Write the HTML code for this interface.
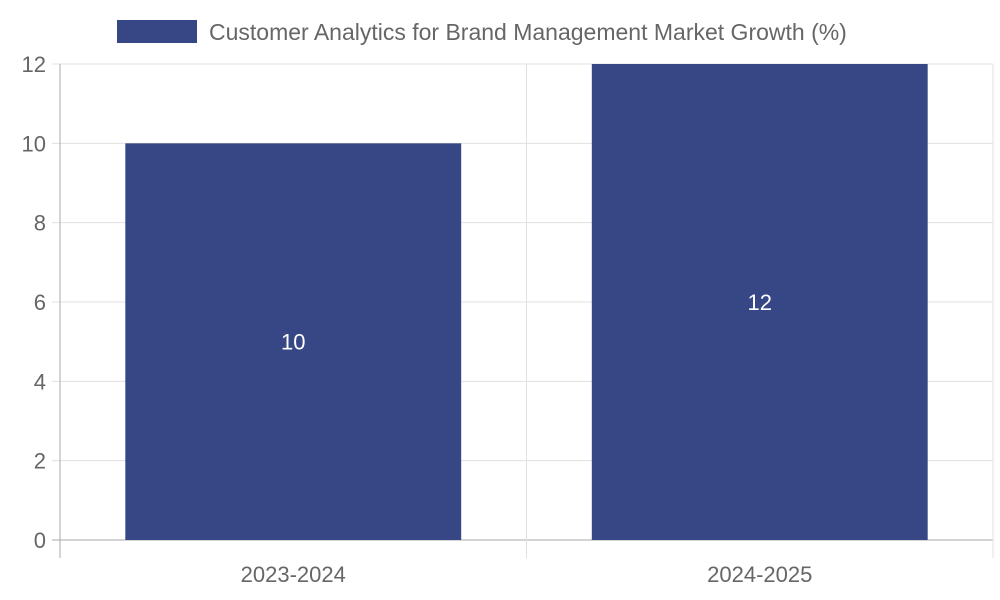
<!DOCTYPE html>
<html><head><meta charset="utf-8"><style>
html,body{margin:0;padding:0;background:#fff;}
svg{display:block;font-family:"Liberation Sans",sans-serif;}
</style></head><body>
<svg id="chart" width="1000" height="600"></svg>
<script>
const categories=["2023-2024","2024-2025"];
const values=[10,12];
const yTicks=[0,2,4,6,8,10,12];
const legendLabel="Customer Analytics for Brand Management Market Growth (%)";
const NS="http://www.w3.org/2000/svg";
const svg=document.getElementById('chart');
const L=60,R=993,T=64,B=540,yMax=12;
const y=v=>B-(v/yMax)*(B-T);
const band=(R-L)/categories.length;
const x=i=>L+band*i;
function mk(t,a,p){const e=document.createElementNS(NS,t);for(const k in a)e.setAttribute(k,a[k]);(p||svg).appendChild(e);return e;}
// grid
yTicks.forEach(v=>{
 const g=mk('line',{x1:L-8,x2:R,y1:y(v),y2:y(v),stroke:v===0?'#aaa':'#e0e0e0','stroke-width':1});
 
 
 const t=mk('text',{x:L-14,y:y(v)+8,'text-anchor':'end','font-size':22,fill:'#666'});
 t.textContent=v;
 
 
});
for(let i=0;i<=categories.length;i++){
 const g=mk('line',{x1:x(i),x2:x(i),y1:T,y2:B+18,stroke:i===0?'#aaa':'#e0e0e0','stroke-width':1});
 
 
}
categories.forEach((c,i)=>{
 const bw=band*0.72;
 const bx=x(i)+(band-bw)/2;
 const r=mk('rect',{x:bx,y:y(values[i]),width:bw,height:B-y(values[i]),fill:'#374785'});
 
 
 const vt=mk('text',{x:bx+bw/2,y:(y(values[i])+B)/2+8,'text-anchor':'middle','font-size':22,fill:'#fff'});
 vt.textContent=values[i];
 
 
 const xt=mk('text',{x:x(i)+band/2,y:582,'text-anchor':'middle','font-size':22,fill:'#666'});
 xt.textContent=c;
 
 
});
const lb=mk('rect',{x:117,y:20,width:80,height:23,fill:'#374785'});


const lt=mk('text',{x:209,y:40,'font-size':23,fill:'#666'});
lt.textContent=legendLabel;


</script>
</body></html>
